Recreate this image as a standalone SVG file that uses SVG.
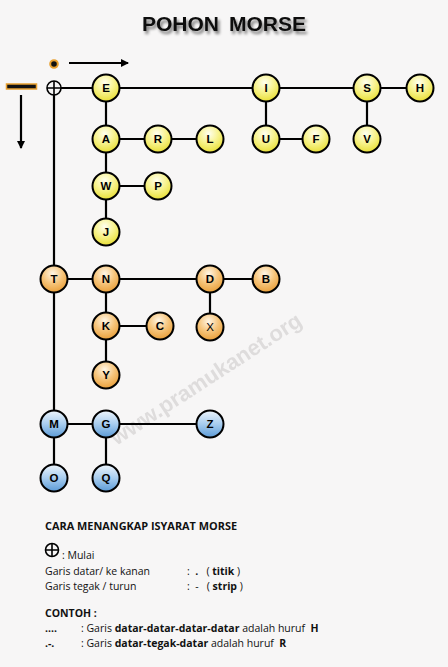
<svg xmlns="http://www.w3.org/2000/svg" width="448" height="667" viewBox="0 0 448 667">
<defs>
<radialGradient id="gy" cx="0.45" cy="0.3" r="0.75"><stop offset="0" stop-color="#fffff0"/><stop offset="0.5" stop-color="#f7f28a"/><stop offset="1" stop-color="#e6dc2a"/></radialGradient>
<radialGradient id="go" cx="0.45" cy="0.3" r="0.75"><stop offset="0" stop-color="#fff6e6"/><stop offset="0.5" stop-color="#f6c47a"/><stop offset="1" stop-color="#e89a30"/></radialGradient>
<linearGradient id="gb" x1="0" y1="0" x2="0" y2="1"><stop offset="0" stop-color="#eef5fc"/><stop offset="0.5" stop-color="#a8cdef"/><stop offset="1" stop-color="#5b9ad6"/></linearGradient>
<marker id="ar" markerWidth="8" markerHeight="8" refX="7" refY="4" orient="auto" markerUnits="userSpaceOnUse"><path d="M0,0 L8,4 L0,8 Z" fill="#000"/></marker>
<filter id="sh" x="-10%" y="-30%" width="120%" height="160%"><feGaussianBlur in="SourceAlpha" stdDeviation="1.5"/><feOffset dx="2" dy="3"/><feComponentTransfer><feFuncA type="linear" slope="0.5"/></feComponentTransfer><feMerge><feMergeNode/><feMergeNode in="SourceGraphic"/></feMerge></filter>
</defs>
<style>
.ln{stroke:#000;stroke-width:2.2;fill:none}
.n circle{stroke:#000;stroke-width:2}
.y circle{fill:url(#gy)}
.o circle{fill:url(#go)}
.b circle{fill:url(#gb)}
.n text{font-family:"Liberation Sans",Arial,sans-serif;font-weight:bold;font-size:11.5px;text-anchor:middle;fill:#000}
.t{font-family:"Open Sans","Liberation Sans",sans-serif;font-size:10.5px;fill:#111;white-space:pre}
.tb{font-weight:bold}
</style>
<rect width="448" height="667" fill="#f7f6f6"/>
<text x="224" y="31" text-anchor="middle" font-family="'Liberation Sans',Arial,sans-serif" font-weight="bold" font-size="21" fill="#111" filter="url(#sh)">POHON<tspan dx="10">MORSE</tspan></text>
<text x="210" y="385" transform="rotate(-33 210 385)" text-anchor="middle" font-family="'Liberation Sans',Arial,sans-serif" font-weight="bold" font-size="22" fill="#d4d2d2" opacity="0.7">www.pramukanet.org</text>
<g id="legend-top">
<circle cx="54" cy="64" r="3.8" fill="#111" stroke="#e8a030" stroke-width="2"/>
<line x1="69" y1="63" x2="128" y2="63" class="ln" marker-end="url(#ar)"/>
<rect x="6.5" y="84" width="30" height="5" fill="#111" stroke="#e8a030" stroke-width="1.5"/>
<line x1="21" y1="95" x2="21" y2="148" class="ln" marker-end="url(#ar)"/>
</g>
<g id="connectors">
<path class="ln" d="M61,88 H420 M106,88 V232 M106,139 H210 M106,186 H158 M266,88 V139 H316 M367,88 V139"/>
<path class="ln" d="M54,95 V478 M54,279 H266 M106,279 V375 M106,326 H160 M210,279 V327 M54,424 H210 M106,424 V478"/>
</g>
<g id="start"><circle cx="54" cy="88" r="7" fill="none" stroke="#000" stroke-width="1.6"/><path d="M47,88 H61 M54,81 V95" stroke="#000" stroke-width="1.6"/></g>
<g id="E" class="n y"><circle cx="106" cy="88" r="13.5"/><text x="106" y="92">E</text></g>
<g id="I" class="n y"><circle cx="266" cy="88" r="13.5"/><text x="266" y="92">I</text></g>
<g id="S" class="n y"><circle cx="367" cy="88" r="13.5"/><text x="367" y="92">S</text></g>
<g id="H" class="n y"><circle cx="420" cy="88" r="13.5"/><text x="420" y="92">H</text></g>
<g id="A" class="n y"><circle cx="106" cy="139" r="13.5"/><text x="106" y="143">A</text></g>
<g id="R" class="n y"><circle cx="158" cy="139" r="13.5"/><text x="158" y="143">R</text></g>
<g id="L" class="n y"><circle cx="210" cy="139" r="13.5"/><text x="210" y="143">L</text></g>
<g id="U" class="n y"><circle cx="266" cy="139" r="13.5"/><text x="266" y="143">U</text></g>
<g id="F" class="n y"><circle cx="316" cy="139" r="13.5"/><text x="316" y="143">F</text></g>
<g id="V" class="n y"><circle cx="367" cy="139" r="13.5"/><text x="367" y="143">V</text></g>
<g id="W" class="n y"><circle cx="106" cy="186" r="13.5"/><text x="106" y="190">W</text></g>
<g id="P" class="n y"><circle cx="158" cy="186" r="13.5"/><text x="158" y="190">P</text></g>
<g id="J" class="n y"><circle cx="106" cy="232" r="13.5"/><text x="106" y="236">J</text></g>
<g id="T" class="n o"><circle cx="54" cy="279" r="13.5"/><text x="54" y="283">T</text></g>
<g id="N" class="n o"><circle cx="106" cy="279" r="13.5"/><text x="106" y="283">N</text></g>
<g id="D" class="n o"><circle cx="210" cy="279" r="13.5"/><text x="210" y="283">D</text></g>
<g id="B" class="n o"><circle cx="266" cy="279" r="13.5"/><text x="266" y="283">B</text></g>
<g id="K" class="n o"><circle cx="106" cy="326" r="13.5"/><text x="106" y="330">K</text></g>
<g id="C" class="n o"><circle cx="160" cy="326" r="13.5"/><text x="160" y="330">C</text></g>
<g id="X" class="n o"><circle cx="210" cy="327" r="13.5"/><text x="210" y="331" style="font-weight:normal">X</text></g>
<g id="Y" class="n o"><circle cx="106" cy="375" r="13.5"/><text x="106" y="379">Y</text></g>
<g id="M" class="n b"><circle cx="54" cy="424" r="13.5"/><text x="54" y="428">M</text></g>
<g id="G" class="n b"><circle cx="106" cy="424" r="13.5"/><text x="106" y="428">G</text></g>
<g id="Z" class="n b"><circle cx="210" cy="424" r="13.5"/><text x="210" y="428">Z</text></g>
<g id="O" class="n b"><circle cx="54" cy="478" r="13.5"/><text x="54" y="482">O</text></g>
<g id="Q" class="n b"><circle cx="106" cy="478" r="13.5"/><text x="106" y="482">Q</text></g>
<g id="legend">
<text class="t tb" x="45" y="530" textLength="192" lengthAdjust="spacingAndGlyphs">CARA MENANGKAP ISYARAT MORSE</text>
<circle cx="52" cy="550" r="6.5" fill="none" stroke="#000" stroke-width="1.6"/><path d="M45.5,550 H58.5 M52,543.5 V556.5" stroke="#000" stroke-width="1.6"/>
<text class="t" x="62" y="559">: Mulai</text>
<text class="t" x="45" y="575">Garis datar/ ke kanan</text>
<text class="t" x="187" y="575" xml:space="preserve">:  <tspan class="tb">.</tspan>   ( <tspan class="tb">titik</tspan> )</text>
<text class="t" x="45" y="590">Garis tegak / turun</text>
<text class="t" x="187" y="590" xml:space="preserve">:  -   ( <tspan class="tb">strip</tspan> )</text>
<text class="t tb" x="45" y="617">CONTOH :</text>
<text class="t tb" x="45" y="632">....</text>
<text class="t" x="81" y="632" xml:space="preserve">: Garis <tspan class="tb">datar-datar-datar-datar</tspan> adalah huruf  <tspan class="tb">H</tspan></text>
<text class="t tb" x="45" y="647">.-.</text>
<text class="t" x="81" y="647" xml:space="preserve">: Garis <tspan class="tb">datar-tegak-datar</tspan> adalah huruf  <tspan class="tb">R</tspan></text>
</g>
</svg>
